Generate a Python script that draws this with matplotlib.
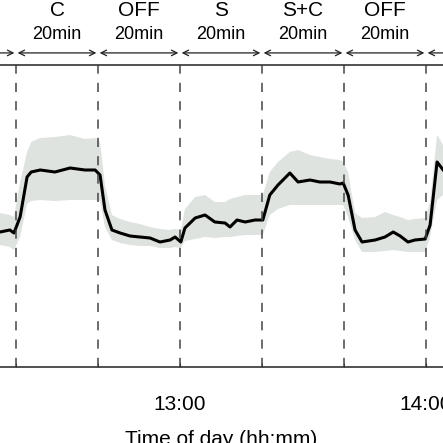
import matplotlib
matplotlib.use("Agg")
import matplotlib.pyplot as plt

plt.rcParams['font.family'] = ['Liberation Sans', 'DejaVu Sans']

# minutes after 12:00
t = [16.1, 18.5, 19.5, 21.0, 22.7, 23.7, 25.9, 29.5, 33.2, 36.8, 39.3, 40.5, 41.7, 43.4, 45.4,
     47.8, 50.2, 52.7, 55.1, 57.6, 58.8, 60.2, 61.2, 63.7, 66.1, 68.5, 71.0, 72.2, 73.9, 75.9,
     78.3, 80.2, 81.9, 83.9, 86.8, 88.8, 91.7, 94.1, 96.6, 99.0, 99.8, 101.0, 102.7, 104.4,
     107.6, 110.0, 112.0, 113.7, 115.6, 117.3, 119.8, 121.0, 122.7, 124.2]
mean = [135, 137, 134, 150, 190, 195, 197, 195, 199, 197, 197, 192, 157, 137, 134,
        131, 130, 129, 125, 127, 130, 125, 139, 149, 152, 145, 144, 140, 147, 145,
        147, 147, 172, 182, 194, 185, 187, 185, 185, 183, 184, 172, 137, 125,
        127, 130, 135, 131, 125, 127, 128, 142, 205, 197]
upper = [154, 152, 150, 185, 215, 225, 229, 230, 232, 228, 229, 225, 182, 152, 148,
         145, 143, 140, 138, 137, 138, 137, 158, 170, 172, 165, 165, 168, 170, 172,
         172, 172, 195, 205, 215, 217, 212, 210, 208, 207, 205, 195, 154, 149,
         150, 155, 152, 150, 147, 148, 149, 165, 232, 222]
lower = [122, 120, 117, 130, 163, 166, 167, 166, 167, 167, 167, 166, 140, 127, 124,
         122, 121, 121, 119, 119, 120, 119, 126, 128, 130, 129, 130, 130, 131, 132,
         132, 132, 152, 158, 162, 162, 162, 162, 162, 162, 162, 150, 127, 115,
         115, 116, 117, 116, 115, 115, 115, 130, 167, 172]

bounds = [20, 40, 60, 80, 100, 120]
phases = ["", "C", "OFF", "S", "S+C", "OFF", ""]
phase_left = [0, 20, 40, 60, 80, 100, 120]
ticks = [60, 120]
tick_labels = ["13:00", "14:00"]

fig = plt.figure(figsize=(4.43, 4.43), dpi=100)
ax = fig.add_axes([0, 1 - 367 / 443, 1, (367 - 65) / 443])
x0 = 20 - 16 * 20 / 82
ax.set_xlim(x0, x0 + 443 * 20 / 82)
ax.set_ylim(0, 302)

ax.fill_between(t, lower, upper, color='#dfe3df', lw=0)
ax.plot(t, mean, color='black', lw=2.2)
for b in bounds:
    ax.axvline(b, color='#444444', ls=(0, (6, 6)), lw=1.1)

for s in ['left', 'right']:
    ax.spines[s].set_visible(False)
for s in ['top', 'bottom']:
    ax.spines[s].set_color('#333333')
    ax.spines[s].set_linewidth(1.2)
ax.set_yticks([])
ax.set_xticks(bounds, minor=True)
ax.tick_params(axis='x', which='minor', direction='in', length=3)
ax.set_xticks(ticks)
ax.set_xticklabels(tick_labels, fontsize=15)
ax.tick_params(axis='x', which='major', direction='in', length=3, pad=20)
ax.set_xlabel("Time of day (hh:mm)", fontsize=15, labelpad=12)

for left, name in zip(phase_left, phases):
    mid = left + 10
    ax.annotate("", xy=(left + 0.4, 1.04), xytext=(left + 19.6, 1.04),
                xycoords=('data', 'axes fraction'), textcoords=('data', 'axes fraction'),
                arrowprops=dict(arrowstyle='<->', lw=0.9, color='#222222',
                                shrinkA=0, shrinkB=0), annotation_clip=False)
    ax.text(mid, 1.10, "20min" if name else "", transform=ax.get_xaxis_transform(),
            ha='center', va='center', fontsize=13, clip_on=False)
    ax.text(mid, 1.18, name, transform=ax.get_xaxis_transform(),
            ha='center', va='center', fontsize=15, clip_on=False)
# partial label at left edge
ax.text(0, 1.10, "20min", transform=ax.get_xaxis_transform(),
        ha='center', va='center', fontsize=13, clip_on=False)

fig.savefig("out.png", dpi=100)
